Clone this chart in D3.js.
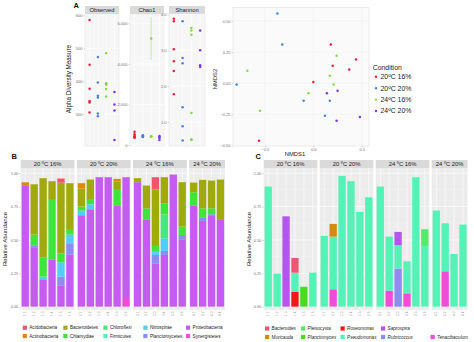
<!DOCTYPE html>
<html>
<head>
<meta charset="utf-8">
<script src="https://cdnjs.cloudflare.com/ajax/libs/d3/7.8.5/d3.min.js"></script>
<style>
 body { margin: 0; background: #fff; }
 text { font-family: "Liberation Sans", Arial, sans-serif; }
</style>
</head>
<body>
<script>
// ---- conditions ----
const conditions = ["20ºC 16%", "20ºC 20%", "24ºC 16%", "24ºC 20%"];
const stripNames = ["20 ºC 16%", "20 ºC 20%", "24 ºC 16%", "24 ºC 20%"];
const condColors = ["#E3203C", "#4A82D8", "#86D94A", "#7B3AE0"];
const groupSizes = [6, 6, 6, 4];

// ---- alpha diversity, one list per condition ----
const observed = [
  [586, 450, 377, 340, 335, 305],
  [473, 396, 356, 350, 302, 293],
  [485, 394, 392, 389, 376, 353],
  [367, 329, 311, 221]
];
const chao1 = [
  [657, 528, 440, 410, 380, 360],
  [480, 470, 430, 415, 410, 400],
  [5250, 430, 425, 420, 415, 410],
  [444, 400, 346, 247]
];
const chao1Se = [
  [30, 20, 15, 15, 10, 10],
  [15, 15, 10, 10, 10, 10],
  [1050, 10, 10, 10, 10, 10],
  [15, 10, 10, 10]
];
const shannon = [
  [3.88, 3.81, 3.03, 2.69, 2.42, 1.77],
  [3.81, 2.78, 2.64, 1.41, 0.88, 0.48],
  [3.62, 3.55, 3.43, 1.25, 0.52, 0.50],
  [3.55, 3.00, 2.58, 2.53]
];

// ---- NMDS ordination ----
const nmds1 = [
  [0.18, 0.44, 0.20, 0.37, 0.00, -0.56],
  [-0.37, -0.32, -0.79, -0.10, 0.17, 0.12],
  [0.24, -0.68, 0.17, 0.21, -0.05, -0.55],
  [0.14, 0.25, 0.24, 0.48]
];
const nmds2 = [
  [0.31, 0.19, 0.14, 0.11, 0.01, -0.46],
  [0.56, 0.31, -0.01, -0.14, -0.14, -0.26],
  [0.22, 0.10, 0.06, -0.01, -0.08, -0.22],
  [-0.08, -0.06, -0.30, -0.27]
];

// ---- phylum relative abundance (22 samples) ----
const sampleIds = ["1.1","1.2","1.3","1.4","1.5","1.6","2.1","2.2","2.3","2.4","2.5","2.6",
                   "3.1","3.2","3.3","3.4","3.5","3.6","4.1","4.2","4.3","4.4"];
const phyla = ["Acidobacteria", "Actinobacteria", "Bacteroidetes", "Chlamydiae", "Chloroflexi",
               "Firmicutes", "Nitrospirae", "Planctomycetes", "Proteobacteria", "Synergistetes"];
const phylumColors = ["#F2546F", "#D98A0B", "#A0AA0C", "#3FE53A", "#45E87C",
                      "#55F0BA", "#52CDF5", "#8C8CF2", "#C65BF2", "#F44BD6"];
const acidobacteria  = [0, 0, 0, 0, 0.03, 0,  0, 0, 0, 0, 0, 0,  0, 0, 0.09, 0, 0, 0,  0, 0, 0, 0];
const actinobacteria = [0.027, 0, 0, 0, 0, 0,  0.04, 0, 0, 0, 0.02, 0,  0, 0, 0, 0, 0, 0,  0, 0, 0, 0];
const bacteroidetes  = [0, 0.377, 0.595, 0.14, 0.53, 0.35,  0.135, 0.1525, 0, 0, 0.0625, 0,
                        0.03, 0.17, 0.425, 0.195, 0, 0.3325,  0.0725, 0.2125, 0.2075, 0.3025];
const chlamydiae     = [0, 0.08, 0.1425, 0.445, 0.0675, 0.035,  0.03, 0.0325, 0, 0, 0.12, 0,
                        0, 0.0875, 0.0375, 0.085, 0, 0.0625,  0.1025, 0.0675, 0.045, 0];
const chloroflexi    = [0, 0, 0, 0, 0, 0,  0, 0, 0, 0, 0, 0,  0, 0, 0, 0.1775, 0, 0,  0, 0, 0, 0];
const firmicutes     = [0, 0, 0, 0, 0, 0,  0, 0, 0, 0, 0, 0,  0, 0, 0, 0, 0, 0,  0, 0, 0, 0];
const nitrospirae    = [0, 0, 0.02, 0, 0.1075, 0.065,  0.035, 0.0375, 0, 0, 0, 0,
                        0, 0, 0.03, 0.095, 0, 0,  0, 0, 0, 0];
const planctomycetes = [0, 0.02, 0, 0, 0.065, 0.085,  0, 0, 0, 0, 0, 0,
                        0, 0, 0.0625, 0.03, 0, 0.0325,  0, 0.0275, 0.0125, 0];
const proteobacteria = [0.905, 0.44, 0.205, 0.355, 0.16, 0.39,  0.685, 0.73, 0.97, 0.97, 0.755, 0.905,
                        0.9325, 0.65, 0.325, 0.3875, 0.99, 0.505,  0.755, 0.6425, 0.68, 0.65];
const synergistetes  = [0, 0, 0, 0, 0, 0,  0, 0, 0, 0, 0, 0.065,  0, 0, 0, 0, 0, 0,  0, 0, 0, 0];
const phylumValues = [acidobacteria, actinobacteria, bacteroidetes, chlamydiae, chloroflexi,
                      firmicutes, nitrospirae, planctomycetes, proteobacteria, synergistetes];

// ---- genus relative abundance (22 samples) ----
const genera = ["Bacteroides", "Muricauda", "Pleisocysta", "Planctomyces", "Roseomonas",
                "Pseudomonas", "Saprospira", "Rubricoccus", "Tenacibaculum"];
const genusColors = ["#F2546F", "#D38A10", "#55EA6C", "#47DC22", "#F01818",
                     "#55F2B8", "#B356EE", "#8C8CF2", "#F04CD8"];
const bacteroides   = [0, 0, 0, 0.11, 0, 0,  0, 0, 0, 0, 0, 0,  0, 0, 0, 0, 0, 0,  0, 0, 0, 0];
const muricauda     = [0, 0, 0, 0, 0, 0,  0, 0.095, 0, 0, 0, 0,  0, 0, 0, 0, 0, 0,  0, 0, 0, 0];
const pleisocysta   = [0, 0, 0, 0, 0, 0,  0, 0, 0, 0, 0, 0,  0, 0, 0, 0, 0, 0.125,  0, 0, 0, 0];
const planctomyces  = [0, 0, 0, 0, 0.149, 0,  0, 0, 0, 0, 0, 0,  0, 0, 0, 0, 0, 0,  0, 0, 0, 0];
const roseomonas    = [0, 0, 0, 0.11, 0, 0,  0, 0, 0, 0, 0, 0,  0, 0, 0, 0, 0, 0,  0, 0, 0, 0];
const pseudomonas   = [0.90, 0.248, 0, 0.145, 0, 0.255,  0.53, 0.395, 0.98, 0.94, 0.71, 0.82,
                       0.90, 0.405, 0.174, 0.24, 0.97, 0.455,  0.72, 0.36, 0.395, 0.615];
const saprospira    = [0, 0, 0.677, 0, 0, 0,  0, 0, 0, 0, 0, 0,  0, 0, 0.10, 0, 0, 0,  0, 0, 0, 0];
const rubricoccus   = [0, 0, 0, 0, 0, 0,  0, 0, 0, 0, 0, 0,  0, 0, 0.286, 0, 0, 0,  0, 0, 0, 0];
const tenacibaculum = [0, 0, 0, 0, 0, 0,  0, 0.13, 0, 0, 0, 0,  0, 0.12, 0, 0.10, 0, 0,  0, 0.265, 0, 0];
const genusValues = [bacteroides, muricauda, pleisocysta, planctomyces, roseomonas,
                     pseudomonas, saprospira, rubricoccus, tenacibaculum];
// bottom-to-top order of the genus stacks
const genusStack = ["Tenacibaculum", "Rubricoccus", "Roseomonas", "Pseudomonas", "Saprospira",
                    "Planctomyces", "Pleisocysta", "Muricauda", "Bacteroides"];

const W = 474, H = 342;
const svg = d3.select("body").append("svg").attr("width", W).attr("height", H);
svg.append("rect").attr("width", W).attr("height", H).attr("fill", "#fff");

const tickCol = "#707070";

function styleAxis(g, size) {
  g.select(".domain").remove();
  g.selectAll(".tick line").attr("stroke", "#9a9a9a").attr("stroke-width", 0.4);
  g.selectAll(".tick text").attr("fill", tickCol).attr("font-size", size).attr("font-family", null);
}

function panelLabel(t, x, y) {
  svg.append("text").attr("x", x).attr("y", y).attr("font-size", 7.5)
     .attr("font-weight", "bold").attr("fill", "#111").text(t);
}

// ===== Panel A: alpha diversity facets =====
panelLabel("A", 73.5, 7.6);
const aTop = 14, aBot = 146;

function alphaFacet(name, x0, x1, yDomain, ticks, values, se) {
  svg.append("rect").attr("x", x0).attr("y", 6).attr("width", x1 - x0).attr("height", 8)
     .attr("fill", "#DADADA");
  svg.append("text").attr("x", (x0 + x1) / 2).attr("y", 12.2).attr("text-anchor", "middle")
     .attr("font-size", 5.8).attr("fill", "#222").text(name);
  svg.append("rect").attr("x", x0).attr("y", aTop).attr("width", x1 - x0).attr("height", aBot - aTop)
     .attr("fill", "#F6F6F6").attr("stroke", "#E0E0E0").attr("stroke-width", 0.5);
  const y = d3.scaleLinear().domain(yDomain).range([aBot, aTop]);
  const x = d3.scalePoint().domain(conditions).range([x0, x1]).padding(0.55);
  const grid = svg.append("g");
  grid.selectAll("line.h").data(ticks).join("line")
      .attr("x1", x0).attr("x2", x1).attr("y1", d => y(d)).attr("y2", d => y(d))
      .attr("stroke", "#fff").attr("stroke-width", 0.6);
  grid.selectAll("line.v").data(conditions).join("line")
      .attr("x1", d => x(d)).attr("x2", d => x(d)).attr("y1", aTop).attr("y2", aBot)
      .attr("stroke", "#fff").attr("stroke-width", 0.6);
  svg.append("g").attr("transform", `translate(${x0},0)`)
     .call(d3.axisLeft(y).tickValues(ticks).tickSize(1.5).tickPadding(1))
     .call(g => styleAxis(g, 4));
  conditions.forEach((c, i) => {
    values[i].forEach((v, j) => {
      if (se) {
        svg.append("line").attr("x1", x(c)).attr("x2", x(c))
           .attr("y1", y(v - se[i][j])).attr("y2", y(v + se[i][j]))
           .attr("stroke", condColors[i]).attr("stroke-width", 0.5);
      }
      svg.append("circle").attr("cx", x(c)).attr("cy", y(v)).attr("r", 1.25)
         .attr("fill", condColors[i]);
    });
  });
}

alphaFacet("Observed", 85, 119, [203, 604], [300, 400, 500, 600], observed);
alphaFacet("Chao1", 130, 164, [-49, 6458], [0, 2000, 4000, 6000], chao1, chao1Se);
alphaFacet("Shannon", 169, 205, [0.33, 4.01], [1, 2, 3, 4], shannon);

svg.append("text").attr("transform", "translate(71,79) rotate(-90)").attr("text-anchor", "middle")
   .attr("font-size", 6.3).attr("fill", "#222").text("Alpha Diversity Measure");

// ===== Panel A: NMDS =====
const nx0 = 233, nx1 = 369, ny0 = 7.3, ny1 = 146;
const nx = d3.scaleLinear().domain([-0.828, 0.574]).range([nx0, nx1]);
const ny = d3.scaleLinear().domain([-0.503, 0.609]).range([ny1, ny0]);
svg.append("rect").attr("x", nx0).attr("y", ny0).attr("width", nx1 - nx0).attr("height", ny1 - ny0)
   .attr("fill", "#FAFAFA").attr("stroke", "#E2E2E2").attr("stroke-width", 0.6);
const nxTicks = [-0.5, 0, 0.5], nyTicks = [-0.5, -0.25, 0, 0.25, 0.5];
svg.append("g").selectAll("line").data(nxTicks).join("line")
   .attr("x1", d => nx(d)).attr("x2", d => nx(d)).attr("y1", ny0).attr("y2", ny1)
   .attr("stroke", "#EFEFEF").attr("stroke-width", 0.5);
svg.append("g").selectAll("line").data(nyTicks).join("line")
   .attr("x1", nx0).attr("x2", nx1).attr("y1", d => ny(d)).attr("y2", d => ny(d))
   .attr("stroke", "#EFEFEF").attr("stroke-width", 0.5);
svg.append("g").attr("transform", `translate(${nx0},0)`)
   .call(d3.axisLeft(ny).tickValues(nyTicks).tickFormat(d3.format(".2f")).tickSize(1.5).tickPadding(1))
   .call(g => styleAxis(g, 4));
svg.append("g").attr("transform", `translate(0,${ny1})`)
   .call(d3.axisBottom(nx).tickValues(nxTicks).tickFormat(d3.format(".1f")).tickSize(1.5).tickPadding(0.5))
   .call(g => styleAxis(g, 4));
conditions.forEach((c, i) => {
  nmds1[i].forEach((v, j) => {
    svg.append("circle").attr("cx", nx(v)).attr("cy", ny(nmds2[i][j])).attr("r", 1.25)
       .attr("fill", condColors[i]);
  });
});
svg.append("text").attr("x", 295).attr("y", 155.5).attr("text-anchor", "middle")
   .attr("font-size", 5.8).attr("fill", "#222").text("NMDS1");
svg.append("text").attr("transform", "translate(217,79) rotate(-90)").attr("text-anchor", "middle")
   .attr("font-size", 5.8).attr("fill", "#222").text("NMDS2");

// condition legend
svg.append("text").attr("x", 372.7).attr("y", 70).attr("font-size", 6.9).attr("fill", "#222")
   .text("Condition");
conditions.forEach((c, i) => {
  const cy = 76.8 + i * 11.4;
  svg.append("circle").attr("cx", 376).attr("cy", cy).attr("r", 1.2).attr("fill", condColors[i]);
  svg.append("text").attr("x", 380.5).attr("y", cy + 2.4).attr("font-size", 6.9)
     .attr("fill", "#222").text(c);
});

// ===== Panels B and C: stacked relative abundance =====
function barPanel(x0, x1, keys, stackKeys, colors, series) {
  const yTop = 168, yBot = 310, gap = 2.4;
  const y = d3.scaleLinear().domain([-0.025, 1.039]).range([yBot, yTop]);
  const per = (x1 - x0 - 3 * gap) / d3.sum(groupSizes);
  const colorOf = d3.scaleOrdinal().domain(keys).range(colors);
  const rows = sampleIds.map((s, j) => {
    const r = { sample: s };
    keys.forEach((k, i) => r[k] = series[i][j]);
    return r;
  });
  const stacked = d3.stack().keys(stackKeys)(rows);
  let start = x0, first = 0;
  groupSizes.forEach((n, f) => {
    const end = start + n * per;
    const ids = sampleIds.slice(first, first + n);
    const xb = d3.scaleBand().domain(ids).range([start, end]).paddingInner(0.18).paddingOuter(0.1);
    svg.append("rect").attr("x", start).attr("y", 160).attr("width", end - start).attr("height", 8)
       .attr("fill", "#DADADA");
    svg.append("text").attr("x", (start + end) / 2).attr("y", 165.9).attr("text-anchor", "middle")
       .attr("font-size", 5.8).attr("fill", "#222").text(stripNames[f]);
    svg.append("rect").attr("x", start).attr("y", yTop).attr("width", end - start)
       .attr("height", yBot - yTop).attr("fill", "#ECECEC");
    const g = svg.append("g");
    g.selectAll("line.minor").data([0.125, 0.375, 0.625, 0.875]).join("line")
     .attr("x1", start).attr("x2", end).attr("y1", d => y(d)).attr("y2", d => y(d))
     .attr("stroke", "#F6F6F6").attr("stroke-width", 0.3);
    g.selectAll("line.major").data([0, 0.25, 0.5, 0.75, 1]).join("line")
     .attr("x1", start).attr("x2", end).attr("y1", d => y(d)).attr("y2", d => y(d))
     .attr("stroke", "#fff").attr("stroke-width", 0.6);
    g.selectAll("line.vert").data(ids).join("line")
     .attr("x1", d => xb(d) + xb.bandwidth() / 2).attr("x2", d => xb(d) + xb.bandwidth() / 2)
     .attr("y1", yTop).attr("y2", yBot).attr("stroke", "#fff").attr("stroke-width", 0.6);
    stacked.forEach(layer => {
      svg.append("g").selectAll("rect")
         .data(layer.slice(first, first + n).filter(d => d[1] - d[0] > 0))
         .join("rect")
         .attr("x", d => xb(d.data.sample)).attr("width", xb.bandwidth())
         .attr("y", d => y(d[1])).attr("height", d => y(d[0]) - y(d[1]))
         .attr("fill", colorOf(layer.key));
    });
    // sample names under each bar
    svg.append("g").selectAll("text").data(ids).join("text")
       .attr("transform", d => `translate(${xb(d) + xb.bandwidth() / 2 + 1},${yBot + 1.5}) rotate(-90)`)
       .attr("text-anchor", "end").attr("font-size", 3.2).attr("fill", "#9a9a9a").text(d => d);
    start = end + gap;
    first += n;
  });
  svg.append("g").attr("transform", `translate(${x0},0)`)
     .call(d3.axisLeft(y).tickValues([0, 0.25, 0.5, 0.75, 1]).tickFormat(d3.format(".2f"))
            .tickSize(1.5).tickPadding(1))
     .call(g => styleAxis(g, 3.8));
}

function legend(items, colors, cols, rowsY, italic) {
  items.forEach((name, i) => {
    if (!name) return;
    const c = Math.floor(i / 2), r = i % 2;
    const x = cols[c], cy = rowsY[r];
    svg.append("rect").attr("x", x).attr("y", cy - 2.1).attr("width", 4.2).attr("height", 4.2)
       .attr("fill", colors[i]);
    svg.append("text").attr("x", x + 6.6).attr("y", cy + 1.6).attr("font-size", 4.6)
       .attr("font-style", italic ? "italic" : null).attr("fill", "#222").text(name);
  });
}

// B: phyla
panelLabel("B", 11.5, 159);
barPanel(20.7, 225, phyla, phyla.slice().reverse(), phylumColors, phylumValues);
svg.append("text").attr("transform", "translate(7,239) rotate(-90)").attr("text-anchor", "middle")
   .attr("font-size", 6.1).attr("fill", "#222").text("Relative Abundance");
legend(phyla, phylumColors, [22.7, 63.3, 103.3, 143.3, 186], [327.7, 336], false);

// C: genera
panelLabel("C", 255.5, 159);
barPanel(263.7, 467.5, genera, genusStack, genusColors, genusValues);
svg.append("text").attr("transform", "translate(250.5,239) rotate(-90)").attr("text-anchor", "middle")
   .attr("font-size", 6.1).attr("fill", "#222").text("Relative Abundance");
legend(genera.slice(0, 8).concat([null, genera[8]]),
       genusColors.slice(0, 8).concat([null, genusColors[8]]),
       [265, 301, 340.5, 381, 430.5], [328.5, 337], true);
</script>
</body>
</html>
